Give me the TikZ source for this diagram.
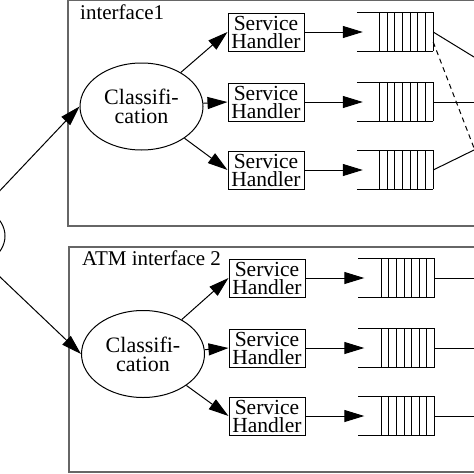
\documentclass[tikz,border=0pt]{standalone}
\usepackage{fontspec}
\setmainfont{Liberation Serif}
\usetikzlibrary{shapes.geometric,arrows.meta}
\begin{document}
\begin{tikzpicture}[x=1pt,y=-1pt,
  frame/.style={draw=black!60,line width=1.3pt},
  handler/.style={draw,line width=1pt,minimum width=76pt,minimum height=38pt,inner sep=0pt,align=center,font=\fontsize{21.5}{18}\selectfont},
  classif/.style={ellipse,draw,line width=1pt,minimum width=123pt,minimum height=87pt,inner sep=0pt,align=center,font=\fontsize{22}{19}\selectfont},
  queuebox/.style={minimum width=76pt,minimum height=38pt,inner sep=0pt},
  arr/.style={-{Triangle[length=20pt,width=12pt]},line width=1pt},
  link/.style={line width=1pt},
  lbl/.style={anchor=base west,inner sep=0pt,font=\fontsize{21}{19}\selectfont}
]
\useasboundingbox (0,0) rectangle (474,474);
\clip (0,0) rectangle (474,474);
% frames
\draw[frame] (68,0.8) rectangle (495,226);
\draw[frame] (69,247) rectangle (495,472);
\node[lbl] (l1) at (80,19.5) {interface1};
\node[lbl] (l2) at (82,265.5) {ATM interface 2};
% source
\node[ellipse,draw,line width=1pt,minimum width=96pt,minimum height=68pt] (src) at (-43,236) {};
% classification
\node[classif] (e1) at (141.5,106.5) {Classifi-\\cation};
\node[classif] (e2) at (143,354) {Classifi-\\cation};
% handlers
\node[handler] (h1) at (266,32) {Service\\Handler};
\node[handler] (h2) at (266,102) {Service\\Handler};
\node[handler] (h3) at (266,170) {Service\\Handler};
\node[handler] (h4) at (267,278) {Service\\Handler};
\node[handler] (h5) at (267,348) {Service\\Handler};
\node[handler] (h6) at (267,416) {Service\\Handler};
% queues
\node[queuebox] (q1) at (395,32) {};
\node[queuebox] (q2) at (395,102) {};
\node[queuebox] (q3) at (395,170) {};
\node[queuebox] (q4) at (396.5,278) {};
\node[queuebox] (q5) at (396.5,348) {};
\node[queuebox] (q6) at (396.5,416) {};
\foreach \q in {q1,q2,q3,q4,q5,q6}{
  \draw[link] (\q.north west) -- (\q.north east) -- (\q.south east);
  \draw[link] (\q.south west) -- (\q.south east);
  \foreach \k in {0,...,6}{
    \draw[link] ([xshift={23+7.57*\k}]\q.north west) -- ([xshift={23+7.57*\k}]\q.south west);
  }
}
% source to classification
\draw[arr] (src) -- (e1.west);
\draw[arr] (src) -- (e2.west);
% classification to handlers
\draw[arr] (e1) -- (h1.west);
\draw[arr] (e1) -- (h2.west);
\draw[arr] (e1) -- (h3.west);
\draw[arr] (e2) -- (h4.west);
\draw[arr] (e2) -- (h5.west);
\draw[arr] (e2) -- (h6.west);
% handlers to queues
\foreach \h/\q in {h1/q1,h2/q2,h3/q3,h4/q4,h5/q5,h6/q6}{
  \draw[arr] (\h.east) -- ([xshift=6pt]\q.west);
}
% outputs
\coordinate (r1) at (474,57);
\coordinate (r2) at (474,102);
\coordinate (r3) at (474,150);
\coordinate (rd) at (474,148);
\coordinate (r4) at (480,278);
\coordinate (r5) at (480,348);
\coordinate (r6) at (480,416);
\draw[link] (q1.east) -- (r1);
\draw[link] (q2.east) -- (r2);
\draw[link] (q3.east) -- (r3);
\draw[link,dash pattern=on 5pt off 4pt] ([yshift=-10pt]q1.east) -- (rd);
\draw[link] (q4.east) -- (r4);
\draw[link] (q5.east) -- (r5);
\draw[link] (q6.east) -- (r6);
\end{tikzpicture}
\end{document}
